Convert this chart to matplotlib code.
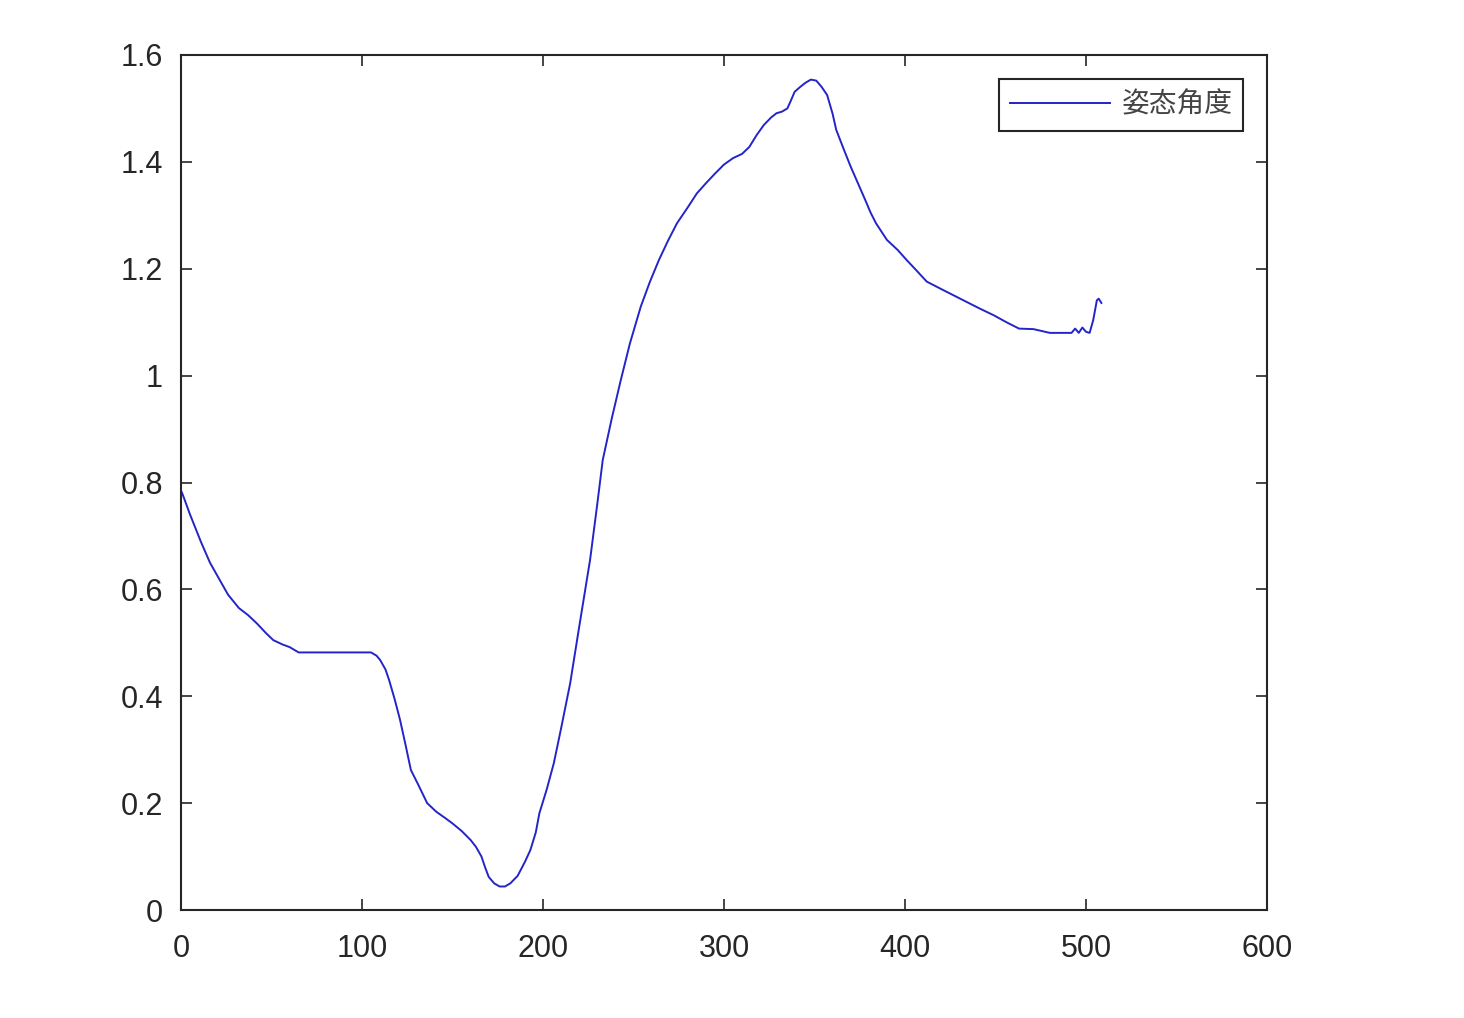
import matplotlib
matplotlib.use('Agg')
import matplotlib.pyplot as plt

# 数据
x = [0, 1, 5, 11, 16, 21, 26, 32, 37, 42, 47, 51, 56, 60, 65, 80, 95, 105,
     108, 110, 113, 115, 118, 121, 124, 127, 131, 136, 141, 146, 150, 155,
     160, 163, 166, 168, 170, 173, 176, 179, 182, 186, 190, 193, 196, 198,
     202, 206, 210, 215, 220, 226, 230, 233, 238, 243, 248, 254, 259, 264,
     269, 274, 280, 285, 290, 295, 300, 305, 310, 314, 318, 322, 326, 329,
     332, 335, 337, 339, 342, 345, 348, 351, 354, 357, 360, 362, 366, 370,
     374, 378, 381, 384, 390, 396, 401, 406, 412, 420, 427, 434, 441, 449,
     456, 463, 471, 480, 492, 494, 496, 498, 500, 502, 504, 506, 507, 508.5]
y = [0.785, 0.777, 0.74, 0.689, 0.65, 0.62, 0.59, 0.565, 0.552, 0.536, 0.518,
     0.505, 0.497, 0.492, 0.482, 0.482, 0.482, 0.482,
     0.476, 0.468, 0.45, 0.43, 0.395, 0.356, 0.31, 0.262, 0.235, 0.2, 0.184,
     0.172, 0.162, 0.148,
     0.131, 0.118, 0.1, 0.08, 0.062, 0.05, 0.044, 0.044, 0.05, 0.064, 0.09,
     0.112, 0.145, 0.181,
     0.225, 0.275, 0.34, 0.424, 0.53, 0.655, 0.76, 0.842, 0.92, 0.992, 1.06,
     1.129, 1.175, 1.216,
     1.252, 1.285, 1.315, 1.341, 1.36, 1.378, 1.395, 1.407, 1.415, 1.428,
     1.45, 1.469, 1.483, 1.491,
     1.494, 1.5, 1.515, 1.531, 1.54, 1.548, 1.554, 1.552, 1.54, 1.525, 1.49,
     1.46, 1.425, 1.391,
     1.36, 1.329, 1.305, 1.285, 1.254, 1.235, 1.216, 1.198, 1.176, 1.162,
     1.15, 1.138, 1.126, 1.113,
     1.1, 1.088, 1.087, 1.08, 1.08, 1.088, 1.08, 1.09, 1.082, 1.08, 1.104,
     1.141, 1.144, 1.136]
legend_label = '姿态角度'
x_ticks = [0, 100, 200, 300, 400, 500, 600]
y_ticks = [0, 0.2, 0.4, 0.6, 0.8, 1.0, 1.2, 1.4, 1.6]
y_ticklabels = ['0', '0.2', '0.4', '0.6', '0.8', '1', '1.2', '1.4', '1.6']

plt.rcParams['font.family'] = ['Liberation Sans', 'Noto Sans CJK SC', 'DejaVu Sans']

fig = plt.figure(figsize=(14.64, 10.18), dpi=100)
ax = fig.add_axes([181 / 1464, 1 - 910 / 1018, 1086 / 1464, 855 / 1018])

ax.plot(x, y, color='#2424c8', linewidth=1.4, label=legend_label)

ax.set_xlim(0, 600)
ax.set_ylim(0, 1.6)
ax.set_xticks(x_ticks)
ax.set_yticks(y_ticks)
ax.set_yticklabels(y_ticklabels)

axis_color = '#262626'
for s in ax.spines.values():
    s.set_color(axis_color)
    s.set_linewidth(1.5)
ax.tick_params(direction='in', length=8, width=1.2, color=axis_color,
               labelcolor=axis_color, labelsize=22,
               top=True, right=True)
ax.tick_params(axis='x', pad=17)
ax.tick_params(axis='y', pad=13)

leg = ax.legend(loc='upper right', handlelength=3.6, handletextpad=0.4,
                borderaxespad=0.85, fancybox=False, framealpha=1,
                edgecolor=axis_color,
                prop={'family': ['Noto Sans CJK SC'], 'size': 20})
leg.get_frame().set_linewidth(1.5)
for t in leg.get_texts():
    t.set_color('#444444')

fig.savefig('out.png', dpi=100)
plt.close(fig)
